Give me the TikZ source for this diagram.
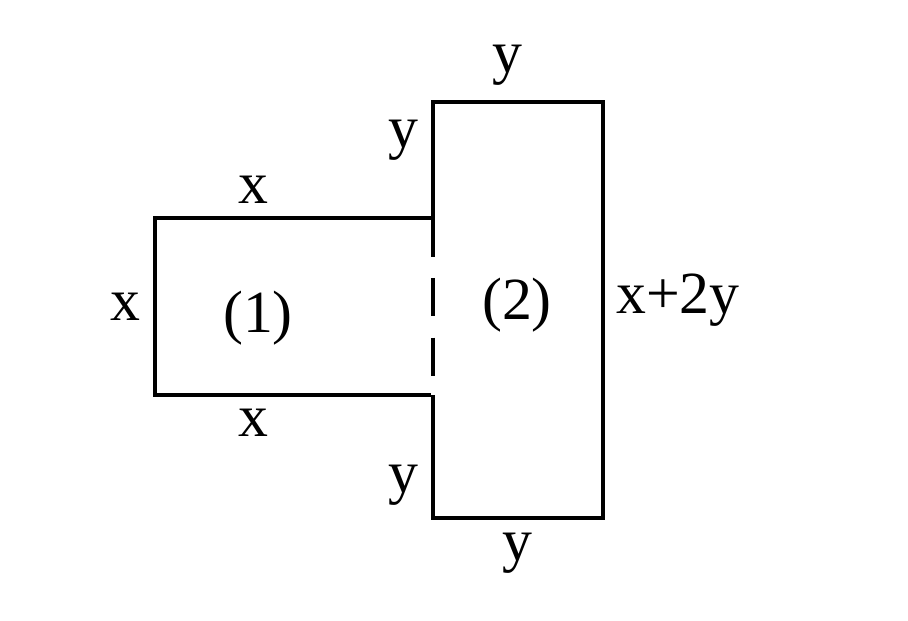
\documentclass[tikz,border=0pt]{standalone}
\usepackage{fontspec}
\setmainfont{Liberation Serif}
\begin{document}
\begin{tikzpicture}[x=0.01cm,y=-0.01cm,
  lbl/.style={font=\fontsize{17}{20}\selectfont,inner sep=0pt},
  edge/.style={line width=1.2pt}]
\useasboundingbox (0,0) rectangle (908,620);
\coordinate (a) at (433,218);
\coordinate (b) at (155,218);
\coordinate (c) at (155,395);
\coordinate (d) at (433,395);
\coordinate (e) at (433,518);
\coordinate (f) at (603,518);
\coordinate (g) at (603,102);
\coordinate (h) at (433,102);
\draw[edge,line join=miter] (a) -- (b) -- (c) -- (d) -- (e) -- (f) -- (g) -- (h) -- cycle;
\draw[line width=1.2pt,white] (a) -- (d);
\draw[edge,dashed,dash pattern=on 11pt off 6pt] (a) -- (d);
\node[lbl] (t1) at (507,65) {y};
\node[lbl] (t2) at (403,140) {y};
\node[lbl] (t3) at (253,190) {x};
\node[lbl] (t4) at (125,307) {x};
\node[lbl] (t5) at (258,318) {(1)};
\node[lbl] (t6) at (517,305) {(2)};
\node[lbl] (t7) at (678,300) {x+2y};
\node[lbl] (t8) at (253,423) {x};
\node[lbl] (t9) at (403,485) {y};
\node[lbl] (t10) at (517,553) {y};
\end{tikzpicture}
\end{document}
